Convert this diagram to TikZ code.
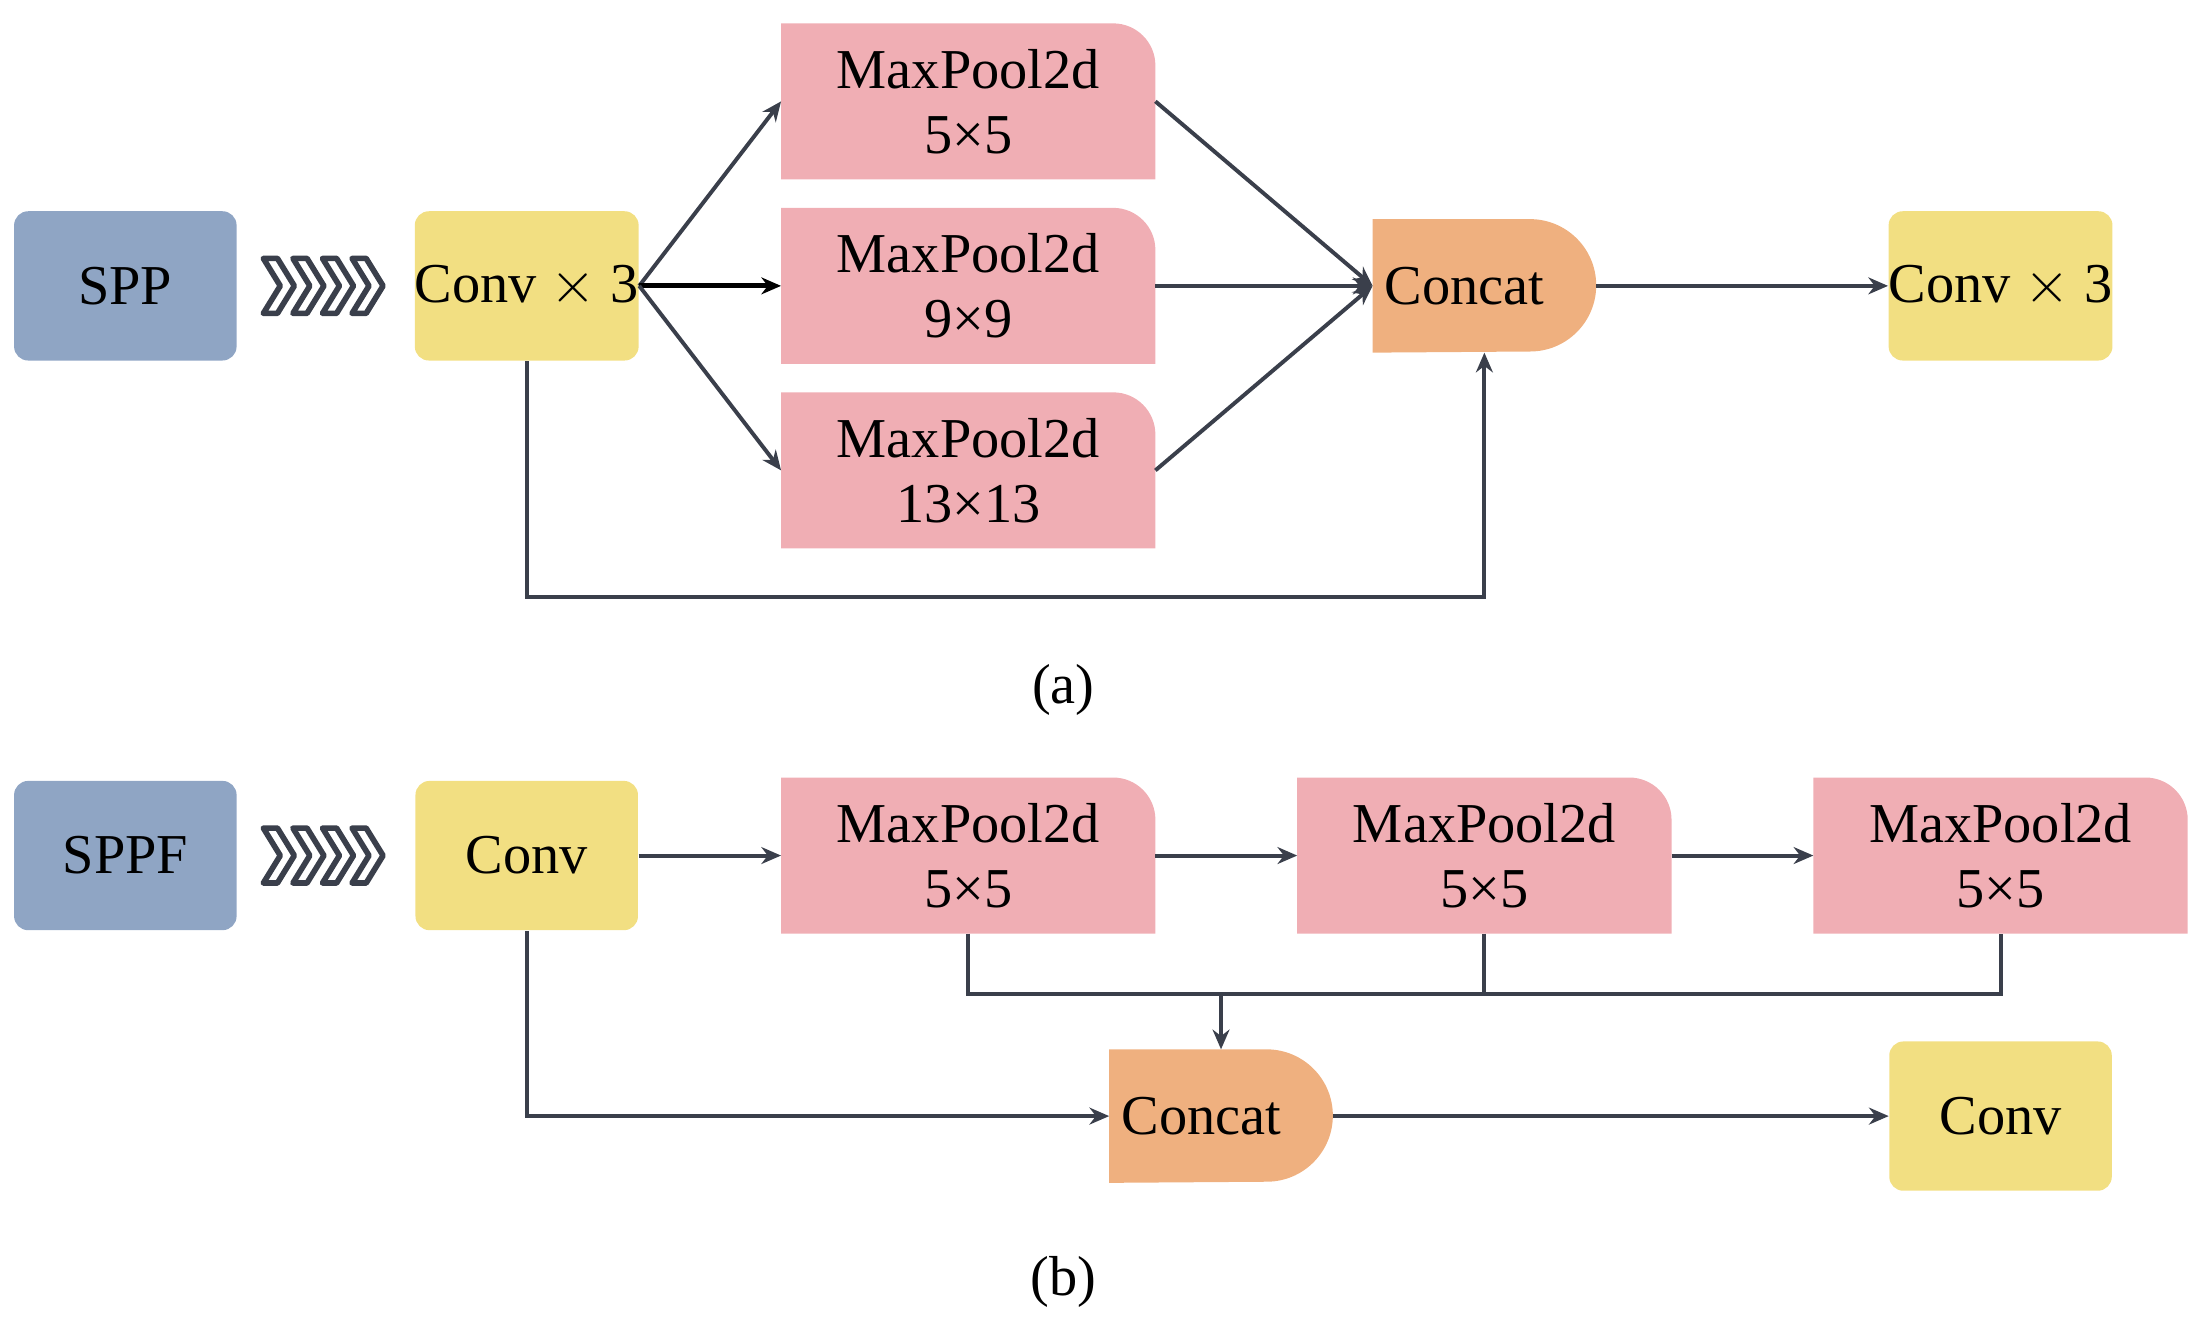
\documentclass[tikz,border=0pt]{standalone}
\usepackage{fontspec}
\setmainfont{Liberation Serif}
\usetikzlibrary{arrows.meta}
\definecolor{bl}{HTML}{8FA5C4}
\definecolor{yl}{HTML}{F2DF82}
\definecolor{pk}{HTML}{F0AEB4}
\definecolor{og}{HTML}{EFB07F}
\definecolor{ln}{HTML}{3A3F4B}
\begin{document}
\begin{tikzpicture}[x=0.5pt,y=-0.5pt,
  txt/.style={font=\fontsize{20}{23}\selectfont,align=center,inner sep=0pt},
  sq/.style={txt,minimum width=79pt,minimum height=53pt},
  blue/.style={sq,fill=bl,rounded corners=5pt},
  yel/.style={sq,fill=yl,rounded corners=5pt},
  mp/.style={txt,minimum width=132.5pt,minimum height=55pt},
  cc/.style={txt,minimum width=79pt,minimum height=47pt},
  arr/.style={draw=ln,line width=1.4pt,-{Stealth[length=7pt,width=6pt]}},
  ln/.style={draw=ln,line width=1.4pt},
  chev/.style={draw=ln,line width=2pt,line join=round}]
\useasboundingbox (0,0) rectangle (1560,945);
\newcommand{\mpshape}[1]{\fill[pk] (#1.south west) -- (#1.north west) -- ([xshift=-15pt]#1.north east) arc(90:0:15pt) -- (#1.south east) -- cycle;}
\newcommand{\ccshape}[1]{\fill[og] (#1.south west) -- (#1.north west) -- ([xshift=-23.5pt]#1.north east) arc(90:-90:23.5pt) -- cycle;}
\newcommand{\chevs}[1]{\foreach \x in {187,208,229,250}{\draw[chev] (\x,#1-19.5) -- (\x+10,#1-19.5) -- (\x+22,#1) -- (\x+10,#1+19.5) -- (\x,#1+19.5) -- (\x+12,#1) -- cycle;}}
% (a)
\node[blue] (spp) at (89,203) {SPP};
\chevs{203}
\node[yel] (c1) at (374,203) {Conv $\times$ 3};
\node[mp] (m1) at (687.5,72) {};
\node[mp] (m2) at (687.5,203) {};
\node[mp] (m3) at (687.5,334) {};
\mpshape{m1}\mpshape{m2}\mpshape{m3}
\node[txt] at (m1) {MaxPool2d\\5×5};
\node[txt] at (m2) {MaxPool2d\\9×9};
\node[txt] at (m3) {MaxPool2d\\13×13};
\node[cc] (k1) at (1054,203) {};
\ccshape{k1}
\node[txt] at (1040,203) {Concat};
\node[yel] (c2) at (1420.5,203) {Conv $\times$ 3};
\draw[arr] (c1.east) -- (m1.west);
\draw[arr,draw=black,line width=1.8pt] (c1.east) -- (m2.west);
\draw[arr] (c1.east) -- (m3.west);
\draw[arr] (m1.east) -- (k1.west);
\draw[arr] (m2.east) -- (k1.west);
\draw[arr] (m3.east) -- (k1.west);
\draw[arr] (k1.east) -- (c2.west);
\draw[arr] (c1.south) -- (c1.south |- 0,424) -| (k1.south);
\node[txt] (la) at (755,490) {(a)};
% (b)
\node[blue] (sppf) at (89,607.5) {SPPF};
\chevs{607.5}
\node[yel] (d1) at (374,607.5) {Conv};
\node[mp] (n1) at (687.5,607.5) {};
\node[mp] (n2) at (1054,607.5) {};
\node[mp] (n3) at (1420.5,607.5) {};
\mpshape{n1}\mpshape{n2}\mpshape{n3}
\node[txt] at (n1) {MaxPool2d\\5×5};
\node[txt] at (n2) {MaxPool2d\\5×5};
\node[txt] at (n3) {MaxPool2d\\5×5};
\node[cc] (k2) at (867,792.5) {};
\ccshape{k2}
\node[txt] at (853,792.5) {Concat};
\node[yel] (d2) at (1420.5,792.5) {Conv};
\draw[arr] (d1.east) -- (n1.west);
\draw[arr] (n1.east) -- (n2.west);
\draw[arr] (n2.east) -- (n3.west);
\draw[ln] (n1.south) -- (n1.south |- 0,706) -- (n3.south |- 0,706) -- (n3.south);
\draw[ln] (n2.south) -- (n2.south |- 0,706);
\draw[arr] (k2.north |- 0,706) -- (k2.north);
\draw[arr] (d1.south) |- (k2.west);
\draw[arr] (k2.east) -- (d2.west);
\node[txt] (lb) at (755,910) {(b)};
\end{tikzpicture}
\end{document}
